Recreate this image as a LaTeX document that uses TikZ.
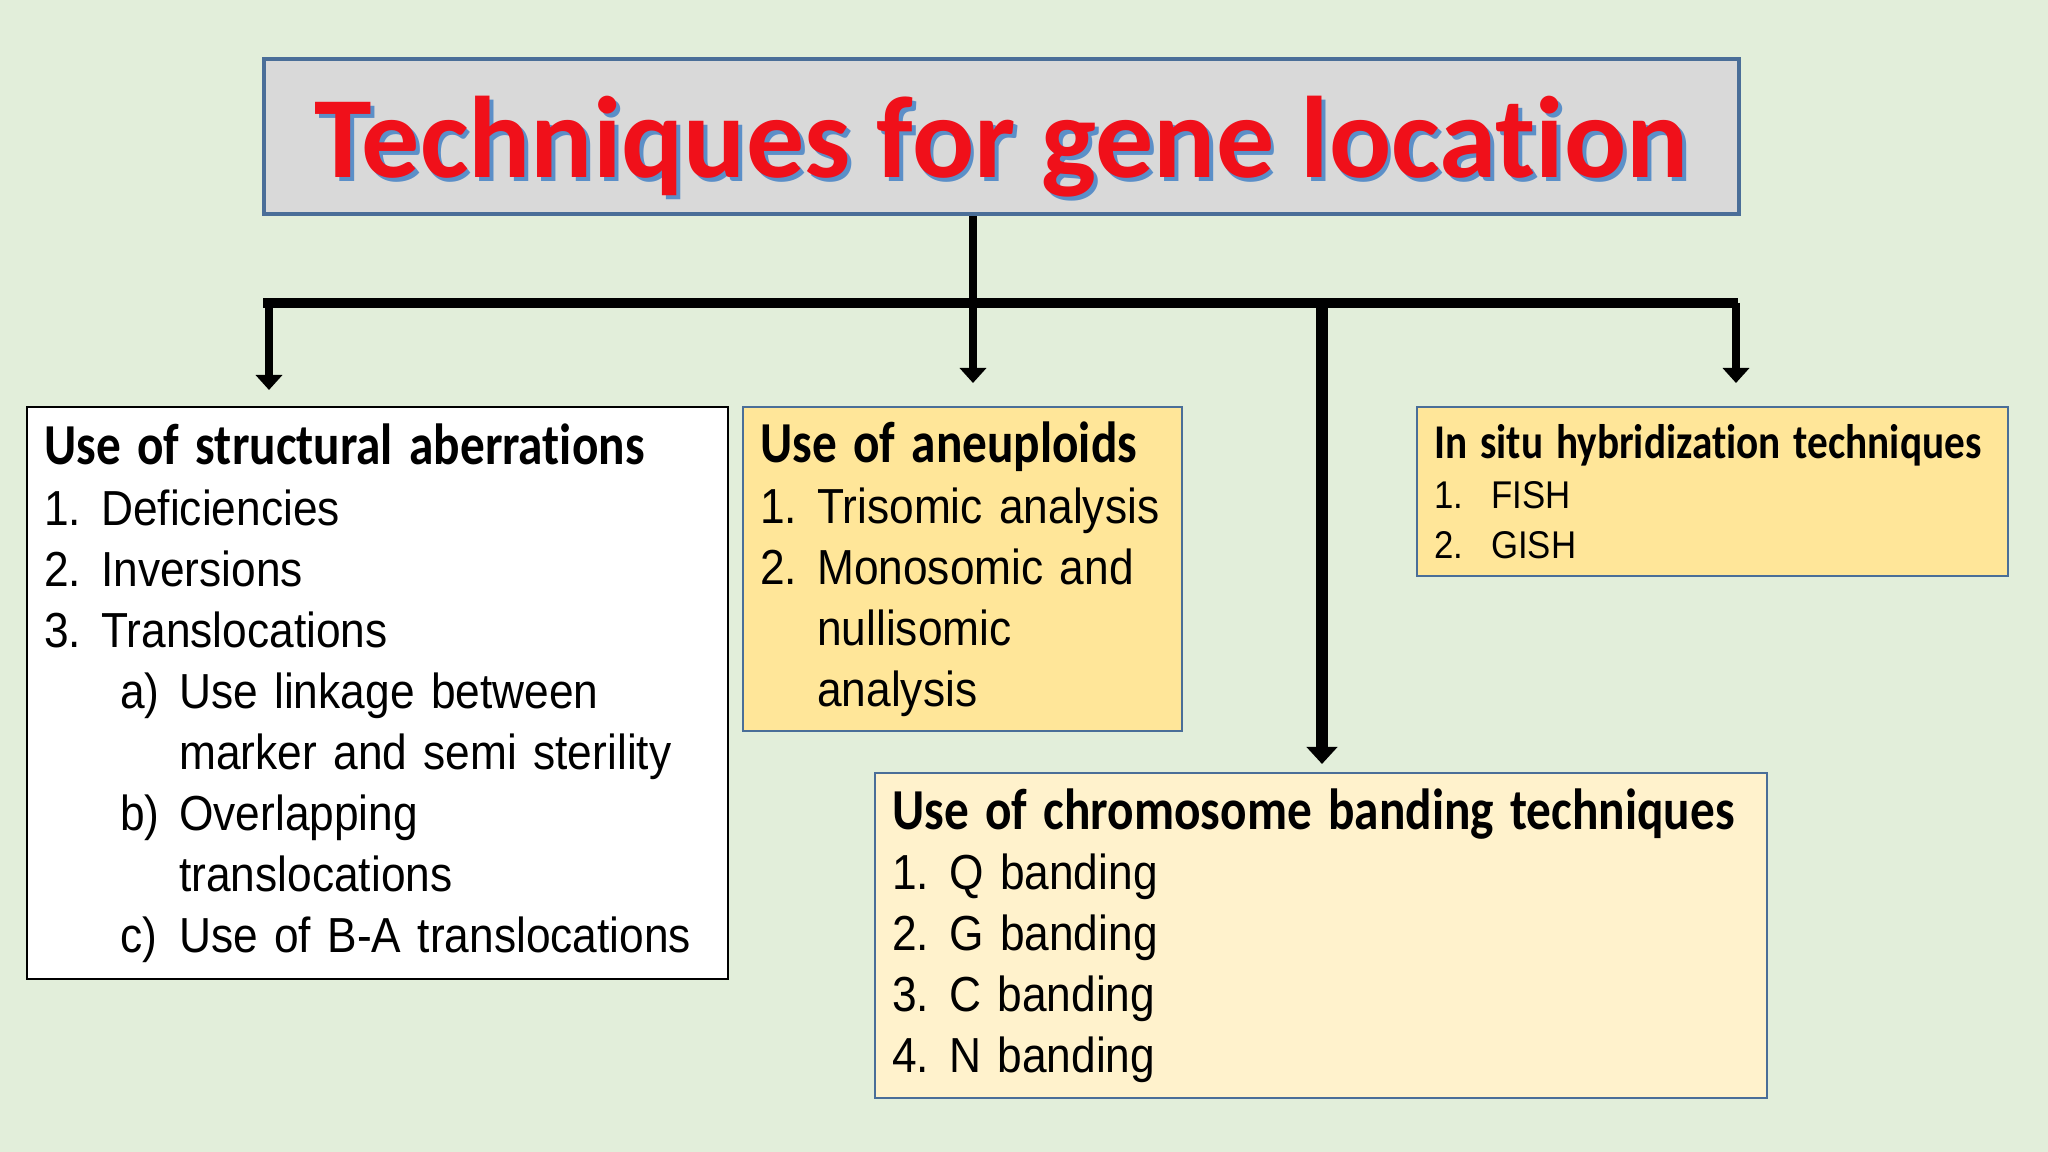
\documentclass[tikz,border=0pt]{standalone}
\usepackage{fontspec}
\setmainfont{Liberation Sans}[FakeStretch=0.9]
\newfontfamily\headfont{Carlito}[FakeStretch=0.85, Ligatures=NoCommon]
\newfontfamily\titlefont{Carlito}[Ligatures=NoCommon]
\usetikzlibrary{positioning,arrows.meta}
\definecolor{slidebg}{HTML}{E2EEDA}
\definecolor{titlegrey}{HTML}{D9D9D9}
\definecolor{steel}{HTML}{4A6E98}
\definecolor{titlered}{HTML}{F0101A}
\definecolor{shadowblue}{HTML}{5B8FC8}
\definecolor{paleyellow}{HTML}{FFE699}
\definecolor{cream}{HTML}{FFF2CC}
\newcommand{\shadowed}[1]{\raisebox{-11.6pt}[0pt][0pt]{\makebox[0pt][l]{\hspace{1.1pt}\raisebox{-1.1pt}{\textcolor{shadowblue}{#1}}}\textcolor{titlered}{#1}}}
\newcommand{\numitem}[2]{\makebox[0.57cm][l]{#1}#2}
\newcommand{\letitem}[2]{\hspace*{0.76cm}\makebox[0.59cm][l]{#1}#2}
\newcommand{\heading}[1]{{\headfont\bfseries\fontsize{16.5}{17.35}\selectfont\mbox{#1}}}
\tikzset{
  titlebox/.style={draw=steel, line width=1.2pt, fill=titlegrey, minimum width=14.75cm, minimum height=1.55cm, inner sep=0pt},
  plainbox/.style={draw=black, line width=0.7pt, fill=white, align=left, inner xsep=0.17cm, inner ysep=0pt, anchor=north west},
  yellowbox/.style={plainbox, draw=steel, fill=paleyellow},
  creambox/.style={plainbox, draw=steel, fill=cream},
  busline/.style={line width=2.6pt},
  stemline/.style={line width=2.2pt},
  flowarrow/.style={-{Triangle[width=2.6mm, length=1.5mm]}, line width=2.4pt},
  bigarrow/.style={-{Triangle[width=3mm, length=1.7mm]}, line width=3.4pt}
}
\begin{document}
\begin{tikzpicture}[every node/.style={font=\fontsize{14}{17.35}\selectfont}]
  \fill[slidebg] (0,0) rectangle (20.48,-11.52);
  \useasboundingbox (0,0) rectangle (20.48,-11.52);
  % heading box
  \node[titlebox, anchor=north west, font=\titlefont\bfseries\fontsize{33}{36}\selectfont] (title) at (2.62,-0.57) {\shadowed{Techniques for gene location}};
  % four branches
  \node[plainbox, text width=6.67cm, minimum height=5.72cm] (struct) at (0.26,-4.06) {%
    \heading{Use of structural aberrations}\\
    \numitem{1.}{Deficiencies}\\
    \numitem{2.}{Inversions}\\
    \numitem{3.}{Translocations}\\
    \letitem{a)}{Use linkage between}\\
    \hspace*{1.35cm}marker and semi sterility\\
    \letitem{b)}{Overlapping}\\
    \hspace*{1.35cm}translocations\\
    \letitem{c)}{Use of B-A translocations}};
  \node[yellowbox, text width=4.05cm, minimum height=3.24cm] (aneu) at (7.42,-4.06) {%
    \heading{Use of aneuploids}\\
    \numitem{1.}{Trisomic analysis}\\
    \numitem{2.}{Monosomic and}\\
    \hspace*{0.57cm}nullisomic\\
    \hspace*{0.57cm}analysis};
  \node[yellowbox, text width=5.57cm, minimum height=1.69cm, font=\fontsize{11}{14.2}\selectfont] (insitu) at (14.16,-4.06) {%
    {\headfont\bfseries\fontsize{13.8}{14.2}\selectfont In situ hybridization techniques}\\
    \numitem{1.}{FISH}\\
    \numitem{2.}{GISH}};
  \node[creambox, text width=8.58cm, minimum height=3.25cm] (band) at (8.74,-7.72) {%
    \heading{Use of chromosome banding techniques}\\
    \numitem{1.}{Q banding}\\
    \numitem{2.}{G banding}\\
    \numitem{3.}{C banding}\\
    \numitem{4.}{N banding}};
  % junctions on the bar
  \coordinate (j1) at (2.69,-3.03);
  \coordinate (j2) at (9.73,-3.03);
  \coordinate (j3) at (13.22,-3.03);
  \coordinate (j4) at (17.36,-3.03);
  \draw[stemline] (title.south -| j2) -- (j2);
  \draw[busline] ([xshift=-0.06cm]j1) -- ([xshift=0.02cm]j4);
  \draw[flowarrow, shorten >=0.16cm] (j1) -- (j1 |- struct.north);
  \draw[flowarrow, shorten >=0.23cm] (j2) -- (j2 |- aneu.north);
  \draw[bigarrow, shorten >=0.08cm] (j3) -- (j3 |- band.north);
  \draw[flowarrow, shorten >=0.23cm] (j4) -- (j4 |- insitu.north);
\end{tikzpicture}
\end{document}
